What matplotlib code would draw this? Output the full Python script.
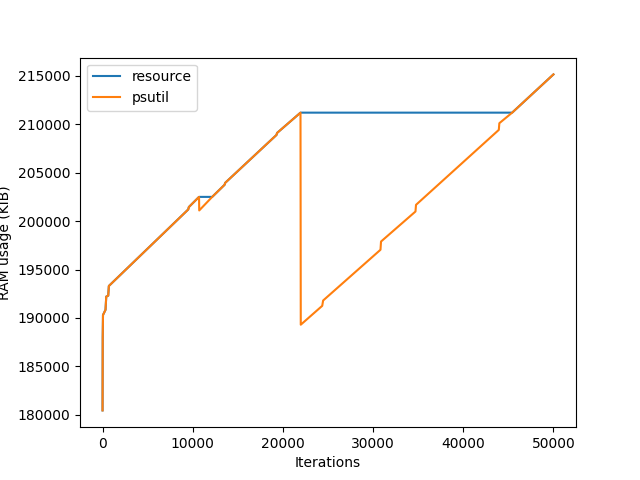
import matplotlib
matplotlib.use("Agg")
import matplotlib.pyplot as plt

# Iteration breakpoints and RAM usage (KiB)
resource_x = [0, 20, 50, 330, 410, 630, 700, 9500, 9570, 10700, 12160,
              13530, 13600, 19290, 19350, 21950, 45420, 50000]
resource_y = [180450, 188000, 190300, 190840, 192200, 192300, 193300, 201200,
              201450, 202500, 202500, 203750, 203950, 208900, 209100, 211200,
              211200, 215150]

psutil_x = [0, 20, 50, 330, 410, 630, 700, 9500, 9570, 10700, 10720, 12160,
            13530, 13600, 19290, 19350, 21950, 21980, 24360, 24460, 30820,
            30880, 34700, 34760, 43940, 44000, 45420, 50000]
psutil_y = [180450, 188000, 190300, 190840, 192200, 192300, 193300, 201200,
            201450, 202500, 201100, 202500, 203750, 203950, 208900, 209100,
            211200, 189300, 191250, 191800, 197040, 197890, 200990, 201680,
            209420, 210110, 211200, 215150]

fig, ax = plt.subplots(figsize=(6.4, 4.8), dpi=100)
ax.plot(resource_x, resource_y, label="resource")
ax.plot(psutil_x, psutil_y, label="psutil")
ax.set_xlabel("Iterations")
ax.set_ylabel("RAM usage (KiB)")
ax.legend(loc="upper left")
fig.savefig("out.png")
